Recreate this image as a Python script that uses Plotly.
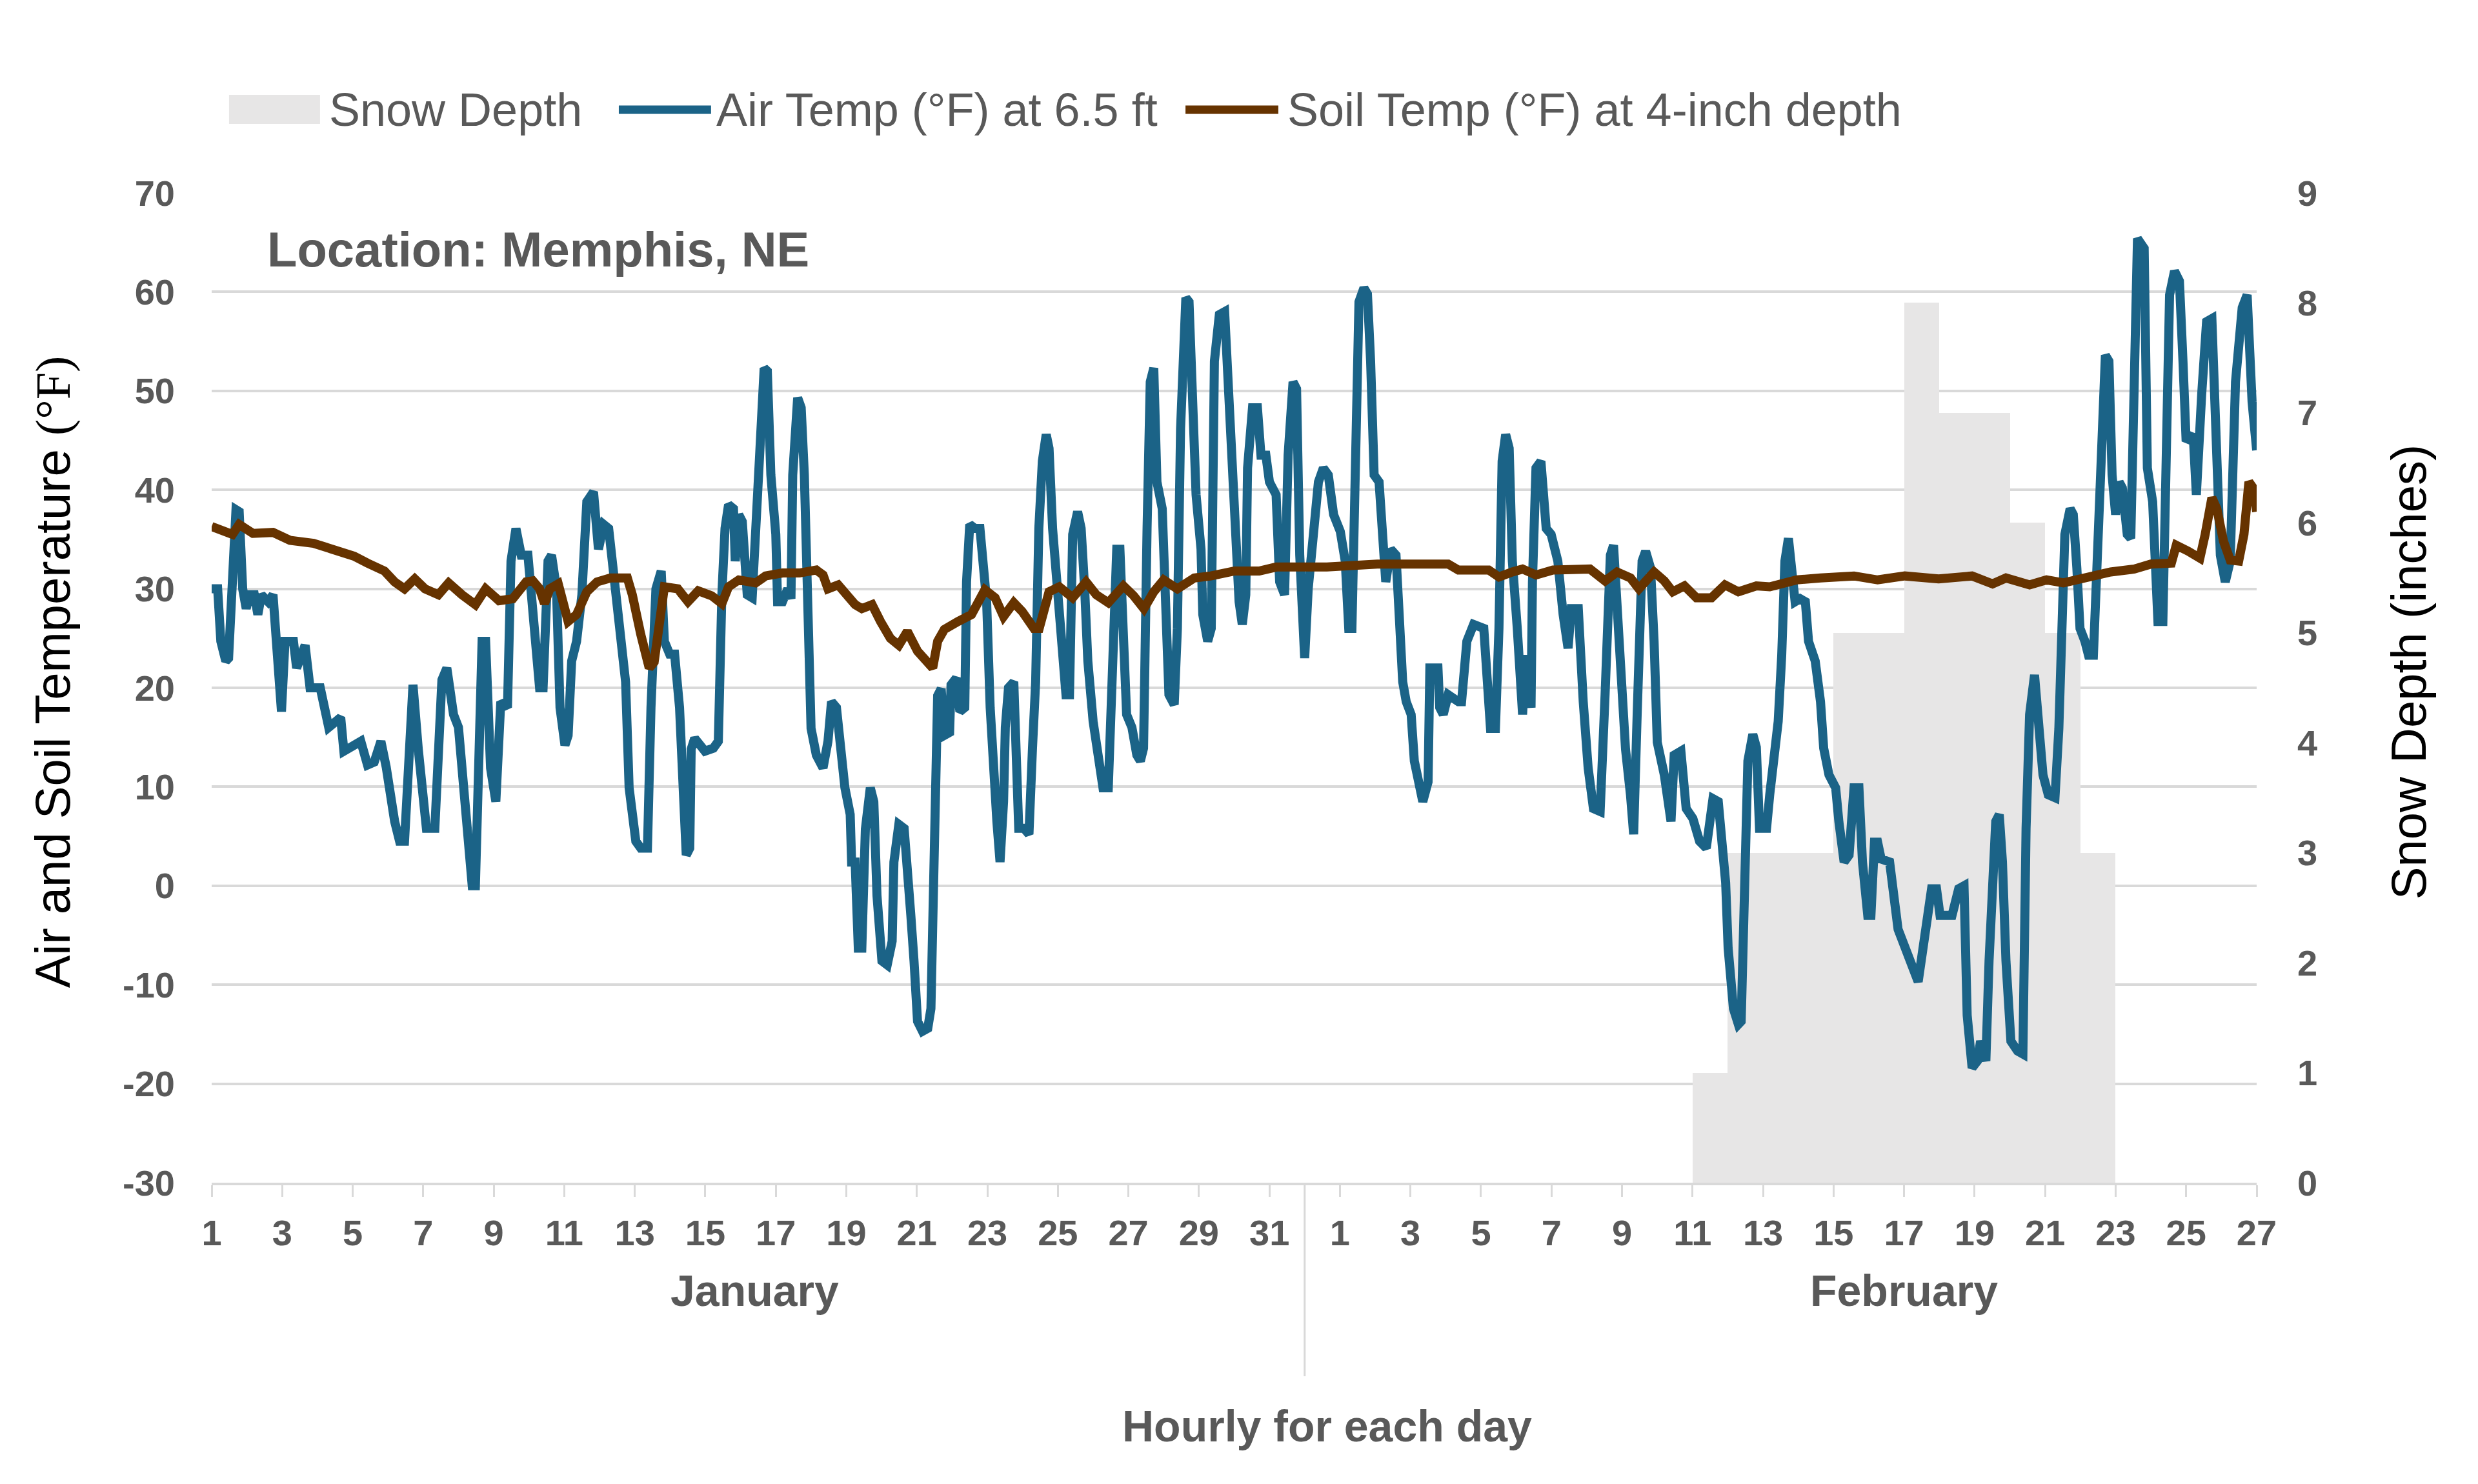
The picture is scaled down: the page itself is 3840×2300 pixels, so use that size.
import plotly.graph_objects as go

COLORS = {
    "air": "#1B6387",
    "soil": "#663300",
    "snow": "#E7E6E6",
    "grid": "#D9D9D9",
    "text": "#595959",
}
FONT = "Liberation Sans, Arial, sans-serif"

# tick labels (day of month)
JAN_TICK_DAYS = [1, 3, 5, 7, 9, 11, 13, 15, 17, 19, 21, 23, 25, 27, 29, 31]
FEB_TICK_DAYS = [1, 3, 5, 7, 9, 11, 13, 15, 17, 19, 21, 23, 25, 27]
TEMP_TICKS = [-30, -20, -10, 0, 10, 20, 30, 40, 50, 60, 70]

# snow depth (inches), one value per February day
SNOW_FEB_DAY = [11, 12, 13, 14, 15, 16, 17, 18, 19, 20, 21, 22]
SNOW_IN = [1, 3, 3, 3, 5, 5, 8, 7, 7, 6, 5, 3]

# air temp: x = days on the chart axis (0 = Jan 1, 32 = Feb 1)
AIR_DAY = [
    0.0, 0.17, 0.26, 0.4, 0.48, 0.59, 0.69, 0.78, 0.88, 0.98, 1.07, 1.21, 1.31, 1.41, 1.6, 1.74,
    1.89, 1.98, 2.08, 2.32, 2.41, 2.65, 2.79, 3.08, 3.32, 3.66, 3.75, 4.23, 4.42, 4.61, 4.8, 4.95,
    5.19, 5.33, 5.47, 5.62, 5.71, 5.86, 6.09, 6.33, 6.53, 6.67, 6.86, 7.0, 7.2, 7.39, 7.48, 7.58,
    7.67, 7.77, 7.91, 8.06, 8.2, 8.39, 8.49, 8.63, 8.78, 8.97, 9.16, 9.3, 9.4, 9.54, 9.64, 9.78,
    9.88, 10.02, 10.11, 10.21, 10.35, 10.5, 10.64, 10.83, 10.97, 11.12, 11.26, 11.45, 11.65, 11.74,
    11.84, 12.03, 12.17, 12.36, 12.46, 12.6, 12.75, 12.84, 12.99, 13.13, 13.27, 13.37, 13.46, 13.56,
    13.6, 13.7, 13.99, 14.23, 14.37, 14.47, 14.56, 14.66, 14.8, 14.85, 14.95, 15.05, 15.19, 15.33,
    15.47, 15.57, 15.67, 15.76, 15.86, 16.0, 16.05, 16.19, 16.34, 16.43, 16.48, 16.62, 16.72, 16.81,
    16.91, 17.0, 17.15, 17.34, 17.48, 17.58, 17.72, 17.82, 17.96, 18.11, 18.15, 18.25, 18.34, 18.44,
    18.54, 18.68, 18.78, 18.87, 19.01, 19.16, 19.3, 19.35, 19.49, 19.64, 19.73, 19.83, 19.92, 20.02,
    20.16, 20.31, 20.4, 20.5, 20.59, 20.69, 20.78, 20.93, 20.97, 21.12, 21.22, 21.36, 21.41, 21.5,
    21.65, 21.79, 21.89, 21.98, 22.08, 22.17, 22.27, 22.36, 22.46, 22.51, 22.6, 22.75, 22.8, 22.89,
    23.04, 23.18, 23.28, 23.37, 23.46, 23.56, 23.67, 23.75, 23.85, 23.94, 24.09, 24.23, 24.33, 24.42,
    24.56, 24.66, 24.76, 24.85, 25.0, 25.14, 25.28, 25.43, 25.52, 25.67, 25.76, 25.86, 25.95, 26.1,
    26.24, 26.34, 26.43, 26.53, 26.62, 26.72, 26.81, 26.96, 27.06, 27.15, 27.3, 27.39, 27.48, 27.63,
    27.72, 27.82, 27.92, 28.06, 28.11, 28.25, 28.35, 28.44, 28.58, 28.73, 28.9, 29.04, 29.14, 29.23,
    29.33, 29.38, 29.52, 29.66, 29.76, 29.9, 30.0, 30.19, 30.29, 30.43, 30.53, 30.67, 30.77, 30.86,
    31.0, 31.1, 31.24, 31.39, 31.53, 31.67, 31.82, 32.01, 32.15, 32.25, 32.34, 32.44, 32.54, 32.68,
    32.78, 32.87, 32.97, 33.11, 33.2, 33.3, 33.44, 33.59, 33.68, 33.78, 33.88, 34.02, 34.11, 34.26,
    34.35, 34.5, 34.55, 34.78, 34.83, 34.93, 35.07, 35.36, 35.45, 35.6, 35.79, 36.08, 36.17, 36.27,
    36.41, 36.51, 36.6, 36.7, 36.8, 36.89, 37.03, 37.18, 37.27, 37.42, 37.46, 37.56, 37.7, 37.85,
    37.99, 38.18, 38.33, 38.47, 38.56, 38.76, 38.9, 39.04, 39.19, 39.38, 39.52, 39.67, 39.76, 39.86,
    39.95, 40.1, 40.24, 40.33, 40.43, 40.57, 40.67, 40.81, 40.91, 41.0, 41.2, 41.39, 41.48, 41.67,
    41.82, 42.01, 42.2, 42.39, 42.58, 42.73, 42.94, 43.01, 43.16, 43.3, 43.38, 43.47, 43.57, 43.71,
    43.81, 43.9, 44.1, 44.19, 44.33, 44.43, 44.53, 44.62, 44.72, 44.81, 44.91, 45.05, 45.2, 45.29,
    45.48, 45.63, 45.72, 45.87, 46.06, 46.15, 46.3, 46.44, 46.58, 46.72, 46.82, 46.97, 47.06, 47.16,
    47.25, 47.35, 47.59, 47.83, 48.11, 48.4, 48.59, 48.78, 48.92, 49.02, 49.36, 49.55, 49.7, 49.79,
    49.93, 50.08, 50.17, 50.32, 50.41, 50.6, 50.7, 50.79, 50.89, 51.03, 51.22, 51.37, 51.46, 51.56,
    51.7, 51.8, 51.94, 52.09, 52.28, 52.39, 52.47, 52.56, 52.71, 52.8, 52.9, 52.99, 53.13, 53.23,
    53.37, 53.47, 53.62, 53.71, 53.81, 53.9, 54.0, 54.1, 54.19, 54.33, 54.43, 54.53, 54.62, 54.81,
    54.9, 55.05, 55.2, 55.34, 55.44, 55.53, 55.67, 55.81, 55.91, 56.0, 56.2, 56.29, 56.44, 56.58,
    56.73, 56.82, 56.97, 57.11, 57.25, 57.4, 57.59, 57.73, 57.87, 58.0,
]
AIR_F = [
    30, 30, 24.7, 22.7, 23, 34, 38, 37.8, 30, 28, 29.4, 29.4, 27.4, 29.4, 28.7, 29.4,
    20.6, 17.6, 24.7, 24.7, 22, 24.3, 20, 20, 16, 17, 13.6, 14.6, 12.2, 12.5, 14.6, 12,
    6.5, 4.5, 4.5, 17.1, 20.3, 13.8, 5.8, 5.8, 20.8, 22, 17.3, 16, 7.2, 0, 0, 13.8,
    24.7, 24.7, 11.9, 8.5, 18.6, 18, 32.8, 36.1, 33.4, 33.4, 26, 20, 20, 32.8, 33.4, 30,
    18, 14.2, 15.2, 22.7, 24.7, 29.4, 38.8, 39.8, 34, 36.5, 36.1, 30, 24.7, 20.6,
    9.9, 4.5, 3.8, 3.8, 18, 30, 31.8, 24.7, 23.4, 23.4, 18, 6.5, 3.1, 3.8,
    13.8, 14.9, 13.6, 13.9, 14.6, 29.4, 36.1, 38.5, 38.1, 32.8, 37.5, 36.8, 29.4, 29.1,
    38.1, 44.2, 52.3, 52, 41.5, 35.5, 28.7, 28.7, 30, 29, 41.5, 49.3, 48.3, 41.5,
    30, 15.9, 13.2, 11.9, 14.6, 18.6, 18, 13.9, 9.9, 7.2, 2.4, 2.4, -6.3, -6.3,
    5.7, 9.9, 8.5, -1, -7.6, -8, -5.6, 2.4, 6.2, 5.8, 2.4, -3, -7.6, -13.7,
    -14.7, -14.4, -12.4, 2.4, 19.2, 19.9, 15.2, 15.5, 20.3, 21, 17.6, 18, 30.7, 36.5,
    36.1, 36.1, 32.1, 28.7, 18, 11.2, 6.5, 2.4, 8.5, 16, 20, 20.6, 15.9, 5.8,
    5.8, 5.2, 13.9, 20.6, 36.1, 42.9, 45.6, 44.2, 36.1, 31.4, 26.7, 19.3, 19.3, 35.5,
    37.8, 36.1, 30, 22.7, 16.6, 12.6, 9.9, 9.9, 19.3, 34, 34, 24, 17.3, 16,
    13.2, 12.6, 13.9, 36.1, 50.9, 52.3, 40.8, 38.1, 26, 19.3, 18.3, 26, 46.2, 59.4,
    59, 47.6, 39.5, 34, 27.4, 24.7, 26, 53, 57.7, 58, 44.9, 35.5, 28.7, 26.4,
    29.4, 42.2, 48.3, 48.3, 43.5, 43.5, 40.8, 39.5, 30.7, 29.4, 43.5, 50.9, 50.2, 33.4,
    23, 30, 35.5, 40.8, 42.2, 41.5, 37.5, 35.8, 32.8, 26, 26, 46.2, 59, 60.4,
    59.8, 53, 41.5, 40.8, 35.5, 30.7, 34, 33.4, 27.4, 20.6, 18.6, 17.3, 12.6, 9.9,
    8.5, 10.5, 22, 22, 18, 17.3, 19.3, 18.6, 18.6, 24.7, 26.4, 26, 21.7, 15.9,
    15.9, 26, 42.9, 45.6, 44.2, 32.8, 26, 17.3, 23.3, 18, 30.7, 42.2, 42.9, 36.1,
    35.5, 32.8, 27.4, 24, 28, 28, 18.6, 11.9, 7.8, 7.5, 19.3, 33.4, 34.4, 27.4,
    20.6, 13.8, 9.2, 5.2, 17.3, 32.8, 33.8, 32.1, 24.7, 14.5, 11.2, 6.5, 13.2, 13.6,
    7.8, 6.8, 4.5, 3.8, 8.8, 8.5, 0.3, -6.3, -12.4, -14, -13.7, -1, 12.6, 15.3,
    14, 5.8, 5.8, 9.2, 13.2, 16.6, 23.3, 32.8, 35.1, 32.8, 28.7, 29, 28.7, 24.7,
    22.7, 18.6, 13.9, 11.2, 9.9, 6.5, 2.4, 3.1, 9.9, 9.9, 2.4, -3, -3, 4.4,
    4.4, 2.7, 2.4, -4.4, -7, -9.7, -5, -0.3, -0.3, -3, -3, -0.3, 0, -13.1,
    -18.4, -17.7, -15.7, -17.7, -7.6, 6.5, 7.2, 2.4, -7.6, -15.7, -16.7, -17, 5.8, 17.3,
    21.3, 15.9, 11.2, 9.2, 8.9, 15.9, 30, 35.5, 38.1, 37.5, 32.1, 26, 24.7, 23.3,
    23.3, 34, 47.6, 53.6, 53, 41.5, 37.5, 40.8, 40.2, 35.5, 35.1, 53, 65.4, 64.4,
    42.2, 38.8, 26.7, 26.7, 42.9, 59.7, 62.1, 61.1, 53, 44.9, 45.6, 39.5, 49.6, 57,
    57.3, 48.9, 33.4, 30.7, 32.8, 50.9, 58.4, 59.7, 48.9, 44,
]

# soil temp at 4-inch depth, same x units
SOIL_DAY = [
    0, 0.59, 0.78, 1.17, 1.74, 2.22, 2.89, 3.46, 4.04, 4.42, 4.9, 5.19, 5.47, 5.76, 6.05, 6.43,
    6.72, 7.1, 7.48, 7.77, 8.15, 8.54, 8.92, 9.11, 9.3, 9.44, 9.59, 9.83, 9.97, 10.11, 10.35, 10.64,
    10.93, 11.31, 11.79, 11.93, 12.17, 12.41, 12.55, 12.7, 12.84, 13.22, 13.51, 13.8, 14.18, 14.47,
    14.66, 14.95, 15.43, 15.71, 16.19, 16.67, 17.15, 17.34, 17.48, 17.77, 18.01, 18.25, 18.44, 18.73,
    18.97, 19.25, 19.49, 19.73, 20.02, 20.31, 20.45, 20.59, 20.78, 21.17, 21.55, 21.93, 22.22, 22.46,
    22.75, 22.99, 23.32, 23.47, 23.75, 24.04, 24.42, 24.8, 25.09, 25.43, 25.86, 26.15, 26.44, 26.72,
    27.0, 27.39, 27.87, 28.34, 29.01, 29.71, 30.19, 31.63, 33.06, 35.07, 35.36, 36.22, 36.51, 36.89,
    37.18, 37.56, 38.04, 39.09, 39.28, 39.52, 39.86, 40.24, 40.48, 40.91, 41.2, 41.44, 41.77, 42.11,
    42.54, 42.92, 43.3, 43.81, 44.19, 44.96, 45.63, 46.58, 47.25, 48.02, 48.98, 49.93, 50.51, 50.89,
    51.56, 52.04, 52.52, 53.09, 53.86, 54.53, 55.0, 55.58, 55.72, 56.06, 56.39, 56.54, 56.73, 56.87,
    57.06, 57.25, 57.49, 57.64, 57.78, 57.9, 58.0,
]
SOIL_F = [
    36.3, 35.5, 36.5, 35.6, 35.7, 34.9, 34.6, 34, 33.3, 32.6, 31.8, 30.7, 30, 31, 30, 29.4,
    30.6, 29.4, 28.4, 30, 28.8, 29, 30.7, 30.8, 30, 28.5, 30, 30.5, 28.7, 26.7, 27.4, 29.7,
    30.7, 31.1, 31.1, 29.4, 25.4, 22, 22.6, 27.4, 30.2, 30, 28.7, 29.8, 29.3, 28.5,
    30.2, 30.9, 30.6, 31.3, 31.6, 31.6, 31.9, 31.4, 30, 30.4, 29.4, 28.4, 28, 28.4,
    26.7, 25, 24.3, 25.7, 23.7, 22.3, 22, 24.7, 25.9, 26.7, 27.4, 29.9, 29.1, 27.2,
    28.6, 27.7, 26, 26, 29.7, 30.2, 29.1, 30.7, 29.4, 28.6, 30.3, 29.3, 28, 29.7,
    30.9, 30, 31.1, 31.3, 31.8, 31.8, 32.2, 32.2, 32.5, 32.5, 31.9, 31.9, 31.2, 31.7,
    32, 31.4, 31.9, 32, 31.4, 30.8, 31.7, 31.1, 30, 31.7, 30.8, 29.7, 30.3, 29.1,
    29.1, 30.4, 29.7, 30.3, 30.2, 30.9, 31.1, 31.3, 30.9, 31.3, 31, 31.3, 30.5, 31.1,
    30.4, 30.9, 30.6, 31.1, 31.7, 32, 32.5, 32.6, 34.4, 33.8, 33.1, 35.5, 39.2, 38.1,
    34.8, 32.9, 32.8, 35.5, 40.8, 40.2, 37.8,
]


def jan(day):
    return day - 1


def feb(day):
    return day + 31


tick_vals = [jan(d) for d in JAN_TICK_DAYS] + [feb(d) for d in FEB_TICK_DAYS]
tick_text = [str(d) for d in JAN_TICK_DAYS] + [str(d) for d in FEB_TICK_DAYS]

snow = go.Bar(
    x=[feb(d) for d in SNOW_FEB_DAY],
    y=SNOW_IN,
    width=1,
    offset=0,
    name="Snow Depth",
    marker={"color": COLORS["snow"], "line": {"width": 0}},
    yaxis="y",
)

air = go.Scatter(
    x=AIR_DAY,
    y=AIR_F,
    mode="lines",
    name="Air Temp (°F) at 6.5 ft",
    line={"color": COLORS["air"], "width": 14},
    yaxis="y2",
)

soil = go.Scatter(
    x=SOIL_DAY,
    y=SOIL_F,
    mode="lines",
    name="Soil Temp (°F) at 4-inch depth",
    line={"color": COLORS["soil"], "width": 14},
    yaxis="y2",
)

fig = go.Figure(data=[snow, air, soil])

tick_font = {"family": FONT, "size": 56, "color": COLORS["text"], "weight": "bold"}

# page body has an 8px margin, so the figure is drawn 16px smaller than the window
fig.update_layout(
    width=3824,
    height=2284,
    margin={"l": 320, "r": 335, "t": 291, "b": 459},
    plot_bgcolor="white",
    paper_bgcolor="white",
    showlegend=False,
    bargap=0,
    xaxis={
        "range": [0, 58],
        "tickvals": tick_vals,
        "ticktext": tick_text,
        "ticks": "outside",
        "ticklen": 18,
        "tickwidth": 3,
        "tickcolor": COLORS["grid"],
        "showline": True,
        "linecolor": COLORS["grid"],
        "linewidth": 4,
        "showgrid": False,
        "zeroline": False,
        "tickfont": tick_font,
        "ticklabelstandoff": 8,
    },
    # snow depth sits on the base axis so the temperature lines draw on top of it
    yaxis={
        "range": [0, 9],
        "dtick": 1,
        "side": "right",
        "showgrid": False,
        "zeroline": False,
        "tickfont": tick_font,
        "ticklabelstandoff": 62,
    },
    yaxis2={
        "range": [-30, 70],
        "tickvals": TEMP_TICKS,
        "ticktext": [str(t) for t in TEMP_TICKS],
        "overlaying": "y",
        "side": "left",
        "showgrid": True,
        "gridcolor": COLORS["grid"],
        "gridwidth": 4,
        "zeroline": False,
        "tickfont": tick_font,
        "ticklabelstandoff": 56,
    },
)

# hand-built legend across the top
legend_y = 1.0841
fig.add_shape(type="rect", xref="paper", yref="paper", x0=0.0085, x1=0.053, y0=1.0698, y1=1.0991,
              fillcolor=COLORS["snow"], line={"width": 0})
fig.add_shape(type="line", xref="paper", yref="paper", x0=0.1991, x1=0.2442, y0=legend_y, y1=legend_y,
              line={"color": COLORS["air"], "width": 13})
fig.add_shape(type="line", xref="paper", yref="paper", x0=0.4762, x1=0.5216, y0=legend_y, y1=legend_y,
              line={"color": COLORS["soil"], "width": 13})
legend_font = {"family": FONT, "size": 72, "color": COLORS["text"]}
for x_pos, label in [(0.0568, snow.name), (0.2461, air.name), (0.5254, soil.name)]:
    fig.add_annotation(x=x_pos, y=legend_y, xref="paper", yref="paper", text=label, showarrow=False,
                       xanchor="left", yanchor="middle", font=legend_font)

fig.add_annotation(x=0.0265, y=0.943, xref="paper", yref="paper", text="Location: Memphis, NE",
                   showarrow=False, xanchor="left", yanchor="middle",
                   font={"family": FONT, "size": 76, "color": COLORS["text"], "weight": "bold"})

# axis titles
fig.add_annotation(x=-0.0776, y=0.5156, xref="paper", yref="paper", textangle=-90, showarrow=False,
                   xanchor="center", yanchor="middle",
                   text='Air and Soil Temperature <span style="font-family:Liberation Serif, serif">(°F)</span>',
                   font={"family": FONT, "size": 76, "color": "black"})
fig.add_annotation(x=1.0742, y=0.5156, xref="paper", yref="paper", textangle=-90, showarrow=False,
                   xanchor="center", yanchor="middle",
                   text="Snow Depth (inches)", font={"family": FONT, "size": 76, "color": "black"})

# month grouping under the day labels
month_font = {"family": FONT, "size": 68, "color": COLORS["text"], "weight": "bold"}
fig.add_annotation(x=15.4, y=-0.1089, xref="x", yref="paper", text="January", showarrow=False,
                   yanchor="middle", font=month_font)
fig.add_annotation(x=48.0, y=-0.1089, xref="x", yref="paper", text="February", showarrow=False,
                   yanchor="middle", font=month_font)
fig.add_shape(type="line", xref="x", yref="paper", x0=feb(1) - 1, x1=feb(1) - 1, y0=0, y1=-0.1956,
              line={"color": COLORS["grid"], "width": 3})
fig.add_annotation(x=0.5453, y=-0.2458, xref="paper", yref="paper", text="Hourly for each day",
                   showarrow=False, yanchor="middle", font=month_font)

fig.write_html("out.html")
